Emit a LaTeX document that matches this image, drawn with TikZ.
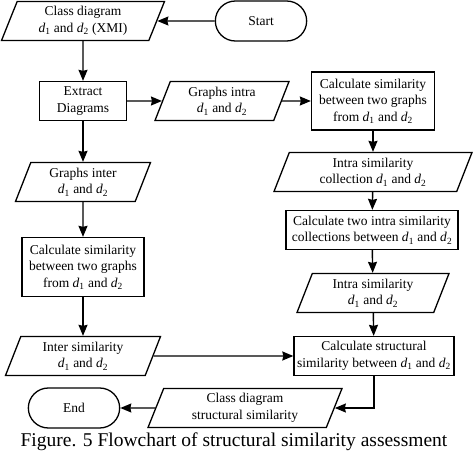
\documentclass[tikz,border=0pt]{standalone}
\usepackage{fontspec}
\setmainfont{Liberation Serif}
\usetikzlibrary{shapes.geometric,shapes.misc,arrows.meta}
\newcommand{\dsub}[1]{\textit{d}\textsubscript{#1}}
\begin{document}
\begin{tikzpicture}[x=1pt,y=-1pt,>={Stealth[length=11pt,width=9pt,inset=1pt]},
    every node/.style={font=\fontsize{13.5}{16.5}\selectfont,align=center},
    procbox/.style={draw,line width=1.3pt,inner sep=1pt},
    iobox/.style={draw,line width=1.3pt,trapezium,trapezium left angle=63,
        trapezium right angle=117,trapezium stretches body,minimum height=39pt,inner sep=1pt},
    termbox/.style={draw,line width=1.3pt,rounded rectangle,minimum width=98pt,minimum height=40pt},
    flow/.style={->,line width=1.4pt}]
\useasboundingbox (0,0) rectangle (474,455);

% top row
\node[termbox] (start) at (261,21) {Start};
\node[iobox,minimum width=163pt] (cd) at (83,21) {Class diagram\\\dsub{1} and \dsub{2} (XMI)};
\node[procbox,minimum width=87pt,minimum height=39pt] (extract) at (83,101) {Extract\\Diagrams};
\node[iobox,minimum width=134pt] (gintra) at (222,101) {Graphs intra\\\dsub{1} and \dsub{2}};
\node[procbox,minimum width=123pt,minimum height=58pt] (calcR) at (373,101) {Calculate similarity\\between two graphs\\from \dsub{1} and \dsub{2}};

% right column
\node[iobox,minimum width=198pt] (collect) at (373,172) {Intra similarity\\collection \dsub{1} and \dsub{2}};
\node[procbox,minimum width=172pt,minimum height=39pt] (calcTwo) at (372,230) {Calculate two intra similarity\\collections between \dsub{1} and \dsub{2}};
\node[iobox,minimum width=152pt] (intraSim) at (373,293) {Intra similarity\\\dsub{1} and \dsub{2}};
\node[procbox,minimum width=160pt,minimum height=39pt] (calcStruct) at (374,356) {Calculate structural\\similarity between \dsub{1} and \dsub{2}};

% left column
\node[iobox,minimum width=135pt] (ginter) at (83,182) {Graphs inter\\\dsub{1} and \dsub{2}};
\node[procbox,minimum width=122pt,minimum height=59pt] (calcL) at (83,267) {Calculate similarity\\between two graphs\\from \dsub{1} and \dsub{2}};
\node[iobox,minimum width=155pt] (interSim) at (83,356) {Inter similarity\\\dsub{1} and \dsub{2}};

% bottom row
\node[iobox,minimum width=194pt] (structSim) at (245,408) {Class diagram\\structural similarity};
\node[termbox] (end) at (74,408) {End};

\node[font=\fontsize{19.5}{21}\selectfont] (caption) at (234,442) {Figure. 5 Flowchart of structural similarity assessment};

\draw[flow] (start) -- (cd);
\draw[flow] (cd) -- (extract);
\draw[flow] (extract) -- (gintra);
\draw[flow] (gintra) -- (calcR);
\draw[flow] (calcR) -- (collect);
\draw[flow] (collect) -- (calcTwo);
\draw[flow] (calcTwo) -- (intraSim);
\draw[flow] (intraSim) -- (calcStruct);
\draw[flow] (extract) -- (ginter);
\draw[flow] (ginter) -- (calcL);
\draw[flow] (calcL) -- (interSim);
\draw[flow] (interSim) -- (calcStruct);
\draw[flow] (calcStruct.south) |- (structSim.east);
\draw[flow] (structSim) -- (end);
\end{tikzpicture}
\end{document}
